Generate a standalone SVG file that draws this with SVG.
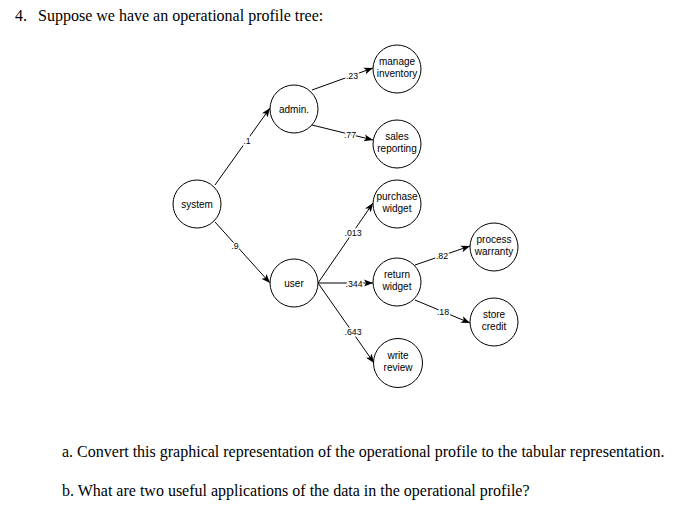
<svg xmlns="http://www.w3.org/2000/svg" width="687" height="531" viewBox="0 0 687 531">
<style>
.q{font-family:"Liberation Serif","Times New Roman",serif;font-size:16px;fill:#000}
.node circle{fill:#fff;stroke:#000;stroke-width:1}
.node text{font-family:"Liberation Sans",Arial,sans-serif;font-size:10px;fill:#000;text-anchor:middle}
.edges line{stroke:#000;stroke-width:1}
.lbl{font-family:"Liberation Sans",Arial,sans-serif;font-size:8.8px;fill:#000;text-anchor:middle;stroke:#fff;stroke-width:3;paint-order:stroke;dominant-baseline:central}
</style>
<defs>
<marker id="arr" markerWidth="10" markerHeight="8" refX="9" refY="4" orient="auto" markerUnits="userSpaceOnUse">
<path d="M0,0.5 L9,4 L0,7.5 L2.2,4 Z" fill="#000"/>
</marker>
</defs>
<rect width="687" height="531" fill="#fff"/>
<text class="q" x="15" y="21">4.</text>
<text class="q" x="38" y="21">Suppose we have an operational profile tree:</text>
<g class="edges">
<line x1="215" y1="185" x2="270" y2="108" marker-end="url(#arr)"/>
<line x1="215" y1="222" x2="270" y2="283" marker-end="url(#arr)"/>
<line x1="312" y1="90" x2="373" y2="68" marker-end="url(#arr)"/>
<line x1="312" y1="125" x2="373" y2="140" marker-end="url(#arr)"/>
<line x1="318" y1="283" x2="373" y2="203" marker-end="url(#arr)"/>
<line x1="318" y1="283" x2="373" y2="283" marker-end="url(#arr)"/>
<line x1="318" y1="283" x2="374" y2="363" marker-end="url(#arr)"/>
<line x1="415" y1="265" x2="470" y2="246" marker-end="url(#arr)"/>
<line x1="415" y1="300" x2="470" y2="323" marker-end="url(#arr)"/>
<text class="lbl" x="247" y="141">.1</text>
<text class="lbl" x="235" y="246">.9</text>
<text class="lbl" x="352" y="76">.23</text>
<text class="lbl" x="350" y="135">.77</text>
<text class="lbl" x="353" y="233">.013</text>
<text class="lbl" x="354" y="284">.344</text>
<text class="lbl" x="353" y="332">.643</text>
<text class="lbl" x="442" y="256">.82</text>
<text class="lbl" x="443" y="312">.18</text>
</g>
<g id="system" class="node"><circle cx="197" cy="204" r="24"/><text x="197" y="207.5">system</text></g>
<g id="admin" class="node"><circle cx="294" cy="109" r="24"/><text x="294" y="112.5">admin.</text></g>
<g id="user" class="node"><circle cx="294" cy="283" r="24"/><text x="294" y="286.5">user</text></g>
<g id="manage-inventory" class="node"><circle cx="397" cy="69" r="24"/><text x="397" y="65">manage</text><text x="397" y="77">inventory</text></g>
<g id="sales-reporting" class="node"><circle cx="397" cy="144" r="24"/><text x="397" y="140">sales</text><text x="397" y="152">reporting</text></g>
<g id="purchase-widget" class="node"><circle cx="397" cy="204" r="24"/><text x="397" y="200">purchase</text><text x="397" y="212">widget</text></g>
<g id="return-widget" class="node"><circle cx="397" cy="282" r="24"/><text x="397" y="278">return</text><text x="397" y="290">widget</text></g>
<g id="write-review" class="node"><circle cx="398" cy="363" r="24.5"/><text x="398" y="359">write</text><text x="398" y="371">review</text></g>
<g id="process-warranty" class="node"><circle cx="494" cy="247" r="24"/><text x="494" y="243">process</text><text x="494" y="255">warranty</text></g>
<g id="store-credit" class="node"><circle cx="494" cy="322" r="24"/><text x="494" y="318">store</text><text x="494" y="330">credit</text></g>
<text class="q" x="62" y="457">a. Convert this graphical representation of the operational profile to the tabular representation.</text>
<text class="q" x="62" y="496">b. What are two useful applications of the data in the operational profile?</text>
</svg>
